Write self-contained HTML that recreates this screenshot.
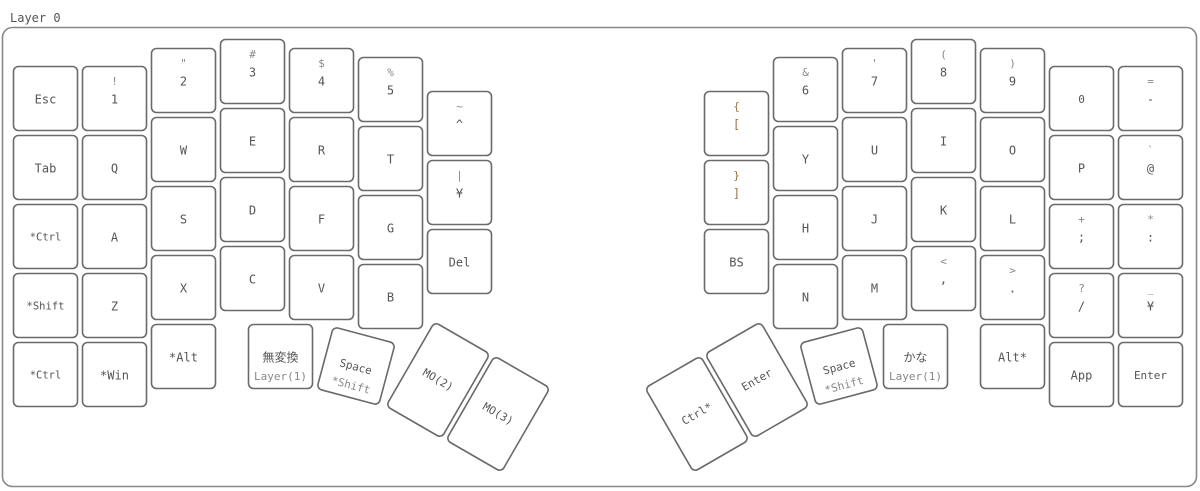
<!DOCTYPE html>
<html><head><meta charset="utf-8"><style>
html,body{margin:0;padding:0;background:#fff;}
svg{display:block}
text{font-family:"DejaVu Sans Mono","Liberation Mono","Noto Sans CJK JP",monospace;fill:#555;text-anchor:middle;dominant-baseline:central;font-size:12px}
.s{fill:#888;font-size:11px}
.o{fill:#a0703f}
rect.k{fill:#fff;stroke:#6a6a6a;stroke-width:1.6}
</style></head><body>
<svg width="1200" height="491" viewBox="0 0 1200 491" xmlns="http://www.w3.org/2000/svg">
<text x="10" y="18" style="text-anchor:start;font-size:12px;fill:#555">Layer 0</text>
<rect x="2.5" y="27.5" width="1194" height="459" rx="10" fill="#fff" stroke="#888" stroke-width="1.6"/>
<defs><rect id="k" class="k" x="0" y="0" width="64" height="64" rx="5"/></defs>

<!-- left col0 -->
<g transform="translate(13.5,66.5)"><use href="#k"/><text x="32" y="33">Esc</text></g>
<g transform="translate(13.5,135.5)"><use href="#k"/><text x="32" y="33">Tab</text></g>
<g transform="translate(13.5,204.5)"><use href="#k"/><text x="32" y="33" style="font-size:10.5px">*Ctrl</text></g>
<g transform="translate(13.5,273.5)"><use href="#k"/><text x="32" y="33" style="font-size:10.5px">*Shift</text></g>
<g transform="translate(13.5,342.5)"><use href="#k"/><text x="32" y="33" style="font-size:10.5px">*Ctrl</text></g>
<!-- col1 -->
<g transform="translate(82.5,66.5)"><use href="#k"/><text class="s" x="32" y="15">!</text><text x="32" y="33">1</text></g>
<g transform="translate(82.5,135.5)"><use href="#k"/><text x="32" y="33">Q</text></g>
<g transform="translate(82.5,204.5)"><use href="#k"/><text x="32" y="33">A</text></g>
<g transform="translate(82.5,273.5)"><use href="#k"/><text x="32" y="33">Z</text></g>
<g transform="translate(82.5,342.5)"><use href="#k"/><text x="32" y="33">*Win</text></g>
<!-- col2 -->
<g transform="translate(151.5,48.5)"><use href="#k"/><text class="s" x="32" y="15">"</text><text x="32" y="33">2</text></g>
<g transform="translate(151.5,117.5)"><use href="#k"/><text x="32" y="33">W</text></g>
<g transform="translate(151.5,186.5)"><use href="#k"/><text x="32" y="33">S</text></g>
<g transform="translate(151.5,255.5)"><use href="#k"/><text x="32" y="33">X</text></g>
<g transform="translate(151.5,324.5)"><use href="#k"/><text x="32" y="33">*Alt</text></g>
<!-- col3 -->
<g transform="translate(220.5,39.5)"><use href="#k"/><text class="s" x="32" y="15">#</text><text x="32" y="33">3</text></g>
<g transform="translate(220.5,108.5)"><use href="#k"/><text x="32" y="33">E</text></g>
<g transform="translate(220.5,177.5)"><use href="#k"/><text x="32" y="33">D</text></g>
<g transform="translate(220.5,246.5)"><use href="#k"/><text x="32" y="33">C</text></g>
<!-- col4 -->
<g transform="translate(289.5,48.5)"><use href="#k"/><text class="s" x="32" y="15">$</text><text x="32" y="33">4</text></g>
<g transform="translate(289.5,117.5)"><use href="#k"/><text x="32" y="33">R</text></g>
<g transform="translate(289.5,186.5)"><use href="#k"/><text x="32" y="33">F</text></g>
<g transform="translate(289.5,255.5)"><use href="#k"/><text x="32" y="33">V</text></g>
<!-- col5 -->
<g transform="translate(358.5,57.5)"><use href="#k"/><text class="s" x="32" y="15">%</text><text x="32" y="33">5</text></g>
<g transform="translate(358.5,126.5)"><use href="#k"/><text x="32" y="33">T</text></g>
<g transform="translate(358.5,195.5)"><use href="#k"/><text x="32" y="33">G</text></g>
<g transform="translate(358.5,264.5)"><use href="#k"/><text x="32" y="33">B</text></g>
<!-- col6 -->
<g transform="translate(427.5,91.5)"><use href="#k"/><text class="s" x="32" y="15">~</text><text x="32" y="33">^</text></g>
<g transform="translate(427.5,160.5)"><use href="#k"/><text class="s" x="32" y="15">|</text><text x="32" y="33">¥</text></g>
<g transform="translate(427.5,229.5)"><use href="#k"/><text x="32" y="33">Del</text></g>
<!-- left thumbs -->
<g transform="translate(248.5,324.5)"><use href="#k"/><text x="32" y="33">無変換</text><text class="s" x="32" y="52">Layer(1)</text></g>
<g transform="translate(356,366) rotate(15)"><rect class="k" x="-32" y="-32" width="64" height="64" rx="5"/><text x="0" y="1" style="font-size:11px">Space</text><text class="s" x="0" y="20">*Shift</text></g>
<g transform="translate(438,380) rotate(30)"><rect class="k" x="-32" y="-48.5" width="64" height="97" rx="5"/><text x="0" y="0" style="font-size:11px">MO(2)</text></g>
<g transform="translate(498,414) rotate(30)"><rect class="k" x="-32" y="-48.5" width="64" height="97" rx="5"/><text x="0" y="0" style="font-size:11px">MO(3)</text></g>

<!-- right col6 -->
<g transform="translate(704.5,91.5)"><use href="#k"/><text class="s o" x="32" y="15">{</text><text class="o" x="32" y="33">[</text></g>
<g transform="translate(704.5,160.5)"><use href="#k"/><text class="s o" x="32" y="15">}</text><text class="o" x="32" y="33">]</text></g>
<g transform="translate(704.5,229.5)"><use href="#k"/><text x="32" y="33">BS</text></g>
<!-- col5 -->
<g transform="translate(773.5,57.5)"><use href="#k"/><text class="s" x="32" y="15">&amp;</text><text x="32" y="33">6</text></g>
<g transform="translate(773.5,126.5)"><use href="#k"/><text x="32" y="33">Y</text></g>
<g transform="translate(773.5,195.5)"><use href="#k"/><text x="32" y="33">H</text></g>
<g transform="translate(773.5,264.5)"><use href="#k"/><text x="32" y="33">N</text></g>
<!-- col4 -->
<g transform="translate(842.5,48.5)"><use href="#k"/><text class="s" x="32" y="15">'</text><text x="32" y="33">7</text></g>
<g transform="translate(842.5,117.5)"><use href="#k"/><text x="32" y="33">U</text></g>
<g transform="translate(842.5,186.5)"><use href="#k"/><text x="32" y="33">J</text></g>
<g transform="translate(842.5,255.5)"><use href="#k"/><text x="32" y="33">M</text></g>
<!-- col3 -->
<g transform="translate(911.5,39.5)"><use href="#k"/><text class="s" x="32" y="15">(</text><text x="32" y="33">8</text></g>
<g transform="translate(911.5,108.5)"><use href="#k"/><text x="32" y="33">I</text></g>
<g transform="translate(911.5,177.5)"><use href="#k"/><text x="32" y="33">K</text></g>
<g transform="translate(911.5,246.5)"><use href="#k"/><text class="s" x="32" y="15">&lt;</text><text x="32" y="33">,</text></g>
<!-- col2 -->
<g transform="translate(980.5,48.5)"><use href="#k"/><text class="s" x="32" y="15">)</text><text x="32" y="33">9</text></g>
<g transform="translate(980.5,117.5)"><use href="#k"/><text x="32" y="33">O</text></g>
<g transform="translate(980.5,186.5)"><use href="#k"/><text x="32" y="33">L</text></g>
<g transform="translate(980.5,255.5)"><use href="#k"/><text class="s" x="32" y="15">&gt;</text><text x="32" y="33">.</text></g>
<g transform="translate(980.5,324.5)"><use href="#k"/><text x="32" y="33">Alt*</text></g>
<!-- col1 -->
<g transform="translate(1049.5,66.5)"><use href="#k"/><text x="32" y="33" style="font-size:11px">0</text></g>
<g transform="translate(1049.5,135.5)"><use href="#k"/><text x="32" y="33">P</text></g>
<g transform="translate(1049.5,204.5)"><use href="#k"/><text class="s" x="32" y="15">+</text><text x="32" y="33">;</text></g>
<g transform="translate(1049.5,273.5)"><use href="#k"/><text class="s" x="32" y="15">?</text><text x="32" y="33">/</text></g>
<g transform="translate(1049.5,342.5)"><use href="#k"/><text x="32" y="33">App</text></g>
<!-- col0 -->
<g transform="translate(1118.5,66.5)"><use href="#k"/><text class="s" x="32" y="15">=</text><text x="32" y="33">-</text></g>
<g transform="translate(1118.5,135.5)"><use href="#k"/><text class="s" x="32" y="15">`</text><text x="32" y="33">@</text></g>
<g transform="translate(1118.5,204.5)"><use href="#k"/><text class="s" x="32" y="15">*</text><text x="32" y="33">:</text></g>
<g transform="translate(1118.5,273.5)"><use href="#k"/><text class="s" x="32" y="15">_</text><text x="32" y="33">¥</text></g>
<g transform="translate(1118.5,342.5)"><use href="#k"/><text x="32" y="33" style="font-size:11px">Enter</text></g>
<!-- right thumbs -->
<g transform="translate(883.5,324.5)"><use href="#k"/><text x="32" y="33">かな</text><text class="s" x="32" y="52">Layer(1)</text></g>
<g transform="translate(839,366) rotate(-15)"><rect class="k" x="-32" y="-32" width="64" height="64" rx="5"/><text x="0" y="1" style="font-size:11px">Space</text><text class="s" x="0" y="20">*Shift</text></g>
<g transform="translate(757,380) rotate(-30)"><rect class="k" x="-32" y="-48.5" width="64" height="97" rx="5"/><text x="0" y="0" style="font-size:11px">Enter</text></g>
<g transform="translate(697,414) rotate(-30)"><rect class="k" x="-32" y="-48.5" width="64" height="97" rx="5"/><text x="0" y="0" style="font-size:11px">Ctrl*</text></g>
</svg>
</body></html>
